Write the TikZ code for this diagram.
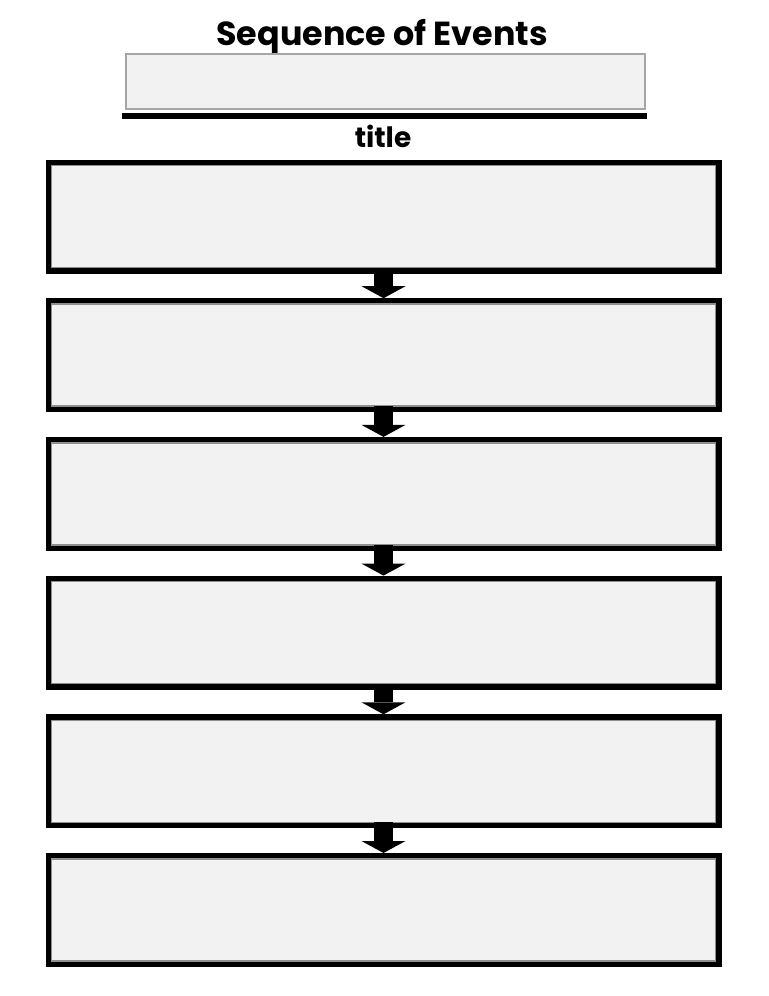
\documentclass[tikz,border=0pt]{standalone}
\usepackage{fontspec}
\setmainfont{Poppins}
\usetikzlibrary{arrows.meta}
\definecolor{boxfill}{HTML}{F2F2F2}
\definecolor{rimgray}{HTML}{8F8F8F}
\definecolor{titlegray}{HTML}{A6A6A6}

\begin{document}
\begin{tikzpicture}[
    x=0.75pt, y=-0.75pt,
    event style/.style={rectangle, draw=rimgray, line width=1.1pt, fill=boxfill, minimum width=498pt, minimum height=76.5pt, inner sep=0pt, outer sep=0pt, preaction={draw=black, line width=9pt}},
    title box style/.style={rectangle, draw=titlegray, line width=1.2pt, fill=boxfill, minimum width=389pt, minimum height=41pt, inner sep=0pt},
    heading style/.style={font=\bfseries\fontsize{25}{28}\selectfont, inner sep=0pt},
    label style/.style={font=\bfseries\fontsize{21}{24}\selectfont, inner sep=0pt},
    arrow style/.style={line width=14.25pt, -{Triangle[width=33pt, length=9pt, line width=0pt]}, shorten >=4.5pt}
]

\useasboundingbox (0,0) rectangle (768,996);

% Heading and title box
\node[heading style, anchor=base] (heading) at (382,45) {Sequence of Events};
\node[title box style] (titlebox) at (385.5,81.5) {};
\draw[line width=4.5pt] (122,116) -- (647,116);
\node[label style, anchor=base] (titlelabel) at (383,147) {title};

% Draw the event boxes
\foreach \i in {1,...,6} {
    \node[event style] (ev\i) at (383.5, {216.5+138.7*(\i-1)}) {};
}

% Arrows between the boxes
\foreach \i [evaluate=\i as \j using int(\i+1)] in {1,...,5} {
    \draw[arrow style] (ev\i.south) -- (ev\j.north);
}
\end{tikzpicture}
\end{document}
